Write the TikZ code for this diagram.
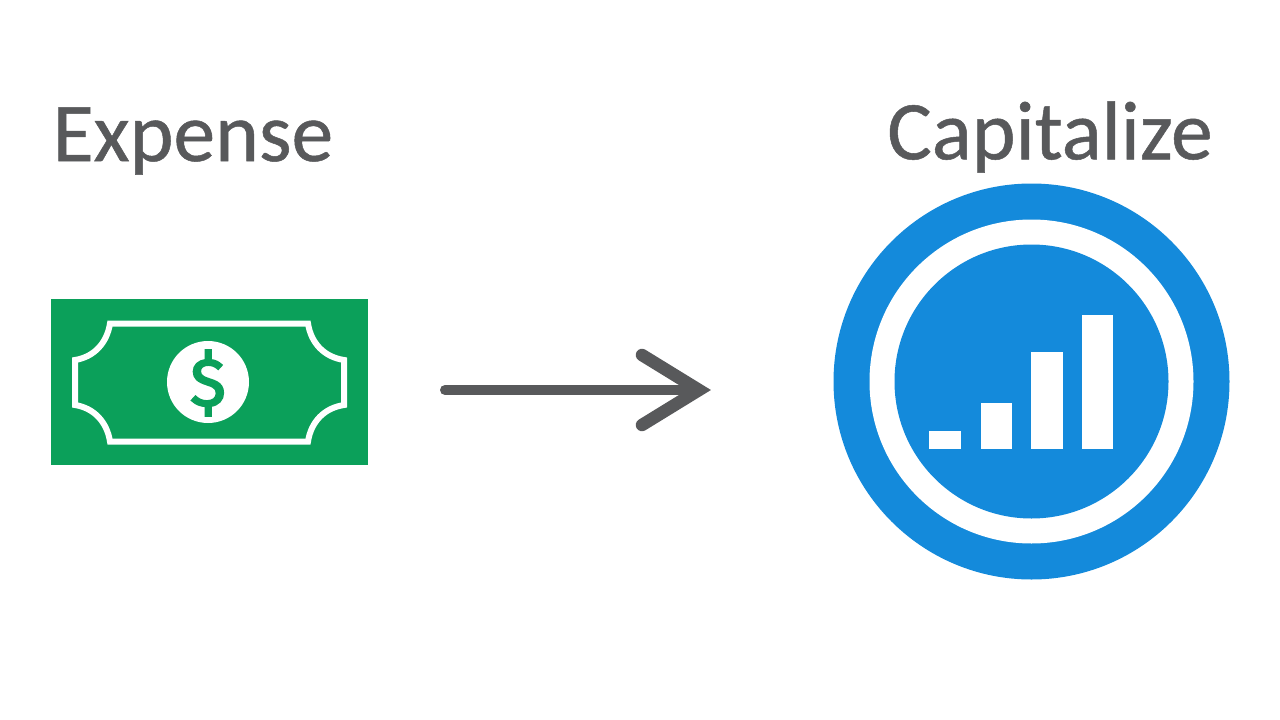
\documentclass[tikz,border=0pt]{standalone}
\usepackage{fontspec}
\setmainfont{Carlito}
\newfontfamily\titlefont[FakeBold=0.6]{Carlito}
\newfontfamily\dollarfont[FakeBold=3]{Fira Sans}
\usepackage{tikz}
\definecolor{billgreen}{HTML}{0BA05A}
\definecolor{diskblue}{HTML}{148ADB}
\definecolor{inkgray}{HTML}{58595B}
\tikzset{
  title/.style={text=inkgray, font=\titlefont\fontsize{83.5}{84}\selectfont, inner sep=0pt},
  barbox/.style={fill=white, draw=none},
  arrowline/.style={draw=inkgray, line width=10pt, line cap=round},
  barbline/.style={draw=inkgray, line width=12.5pt, line cap=round, line join=miter}
}
\begin{document}
\begin{tikzpicture}[x=1pt, y=-1pt]
\useasboundingbox (0, 0) rectangle (1280, 720);
\node[title] (expense) at (193, 141) {Expense};
\node[title] (capitalize) at (1050, 137) {Capitalize};
% bill
\fill[billgreen] (51, 299) rectangle (367.5, 465);
\draw[white, line width=6pt, line join=miter] (110, 323.5) -- (308, 323.5) .. controls (311, 343) and (324, 357) .. (344, 360) -- (344, 405) .. controls (324, 408) and (311, 422) .. (308, 441.5) -- (110, 441.5) .. controls (107, 422) and (94, 408) .. (75, 405) -- (75, 360) .. controls (94, 357) and (107, 343) .. (110, 323.5) -- cycle;
\fill[white] (208, 382) circle (41);
\node[text=billgreen, font=\dollarfont\fontsize{67}{67}\selectfont, inner sep=0pt] (dollar) at (208, 383) {\$};
% arrow
\coordinate (tail) at (445, 390);
\coordinate (head) at (690, 390);
\coordinate (tip) at (699, 390);
\coordinate (barbup) at (642, 355);
\coordinate (barbdown) at (642, 425);
\draw[arrowline] (tail) -- (head);
\draw[barbline] (barbup) -- (tip) -- (barbdown);
% disk
\fill[diskblue] (1031.5, 381.5) circle (198);
\fill[white] (1031.5, 381.5) circle (162);
\fill[diskblue] (1031.5, 381.5) circle (137);
\fill[barbox] (929, 431) rectangle (961, 449);
\fill[barbox] (981, 403) rectangle (1012, 449);
\fill[barbox] (1031, 352) rectangle (1063, 449);
\fill[barbox] (1082, 315) rectangle (1113, 449);
\end{tikzpicture}
\end{document}
